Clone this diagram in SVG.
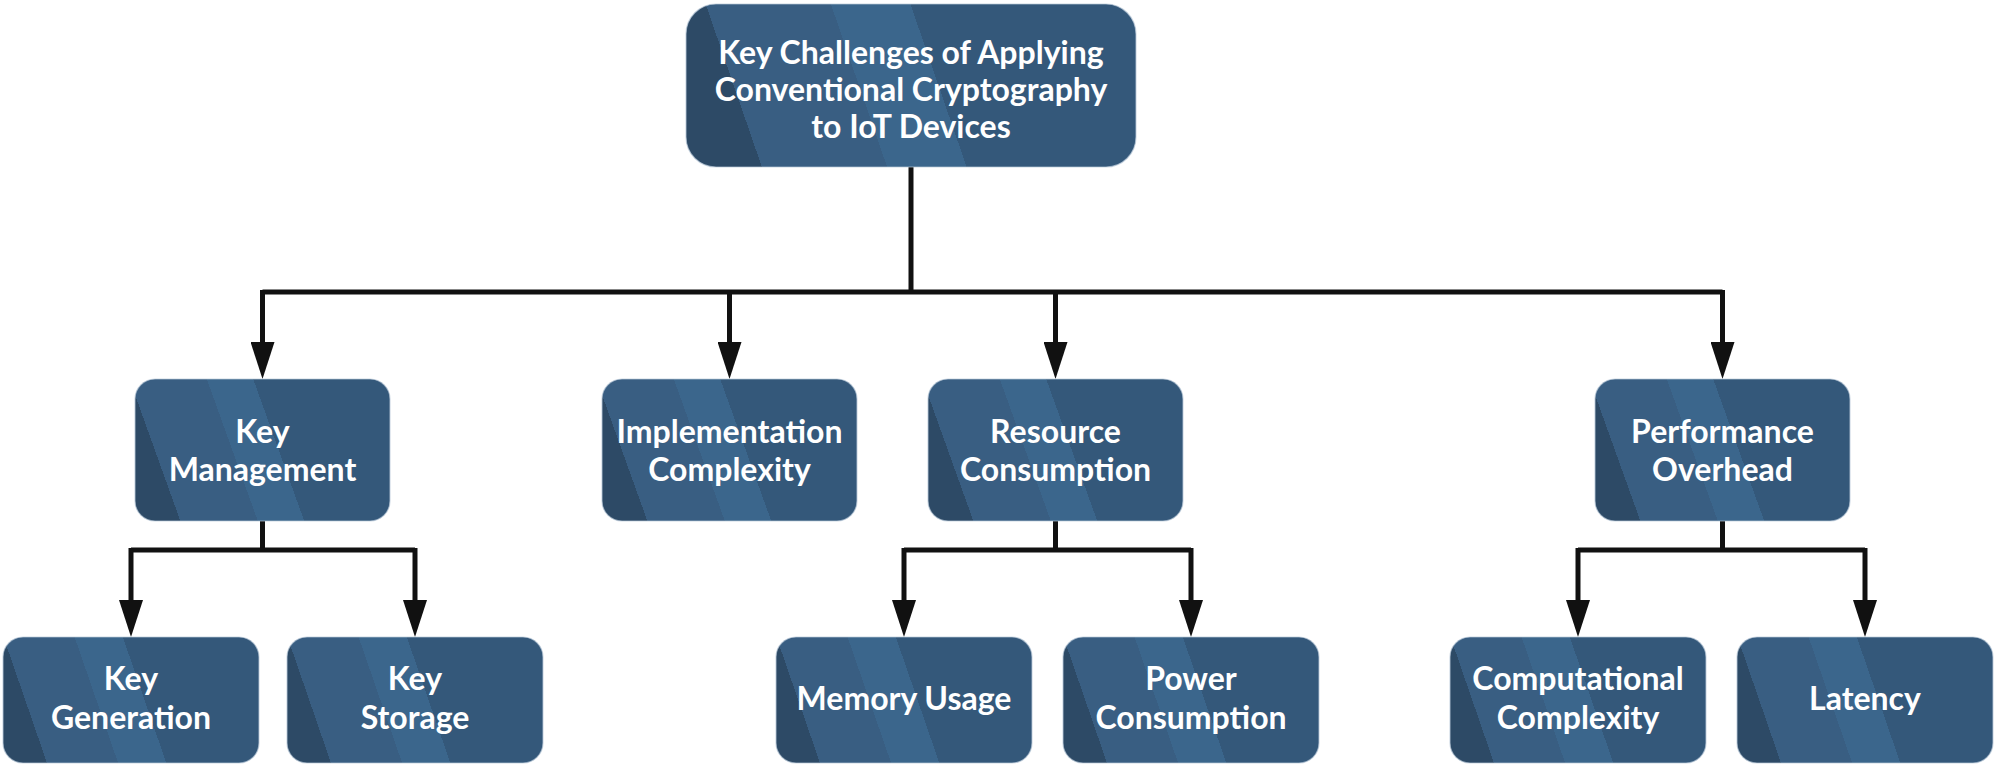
<svg xmlns="http://www.w3.org/2000/svg" width="1998" height="771" viewBox="0 0 1998 771">
  <style>
    .box { stroke: #b9c9d8; stroke-width: 1.2; stroke-opacity: 0.7; }
    .lbl { font-family: "Lato", "Open Sans", sans-serif; font-weight: 700; fill: #ffffff; text-anchor: middle; }
    .root { font-size: 32px; }
    .t { font-size: 32px; }
    .conn { fill: none; stroke: #111111; stroke-width: 5; stroke-linejoin: miter; }
  </style>
  <defs>
    <linearGradient id="gRoot" x1="0" y1="1" x2="1" y2="0.875">
      <stop offset="0" stop-color="#2d4a66"/>
      <stop offset="0.166" stop-color="#2d4a66"/>
      <stop offset="0.166" stop-color="#395e82"/>
      <stop offset="0.44" stop-color="#395e82"/>
      <stop offset="0.44" stop-color="#3b668c"/>
      <stop offset="0.614" stop-color="#3b668c"/>
      <stop offset="0.614" stop-color="#34587a"/>
      <stop offset="1" stop-color="#34587a"/>
    </linearGradient>
    <linearGradient id="gL2" x1="0" y1="1" x2="1" y2="0.8">
      <stop offset="0" stop-color="#2d4a66"/>
      <stop offset="0.171" stop-color="#2d4a66"/>
      <stop offset="0.171" stop-color="#395e82"/>
      <stop offset="0.463" stop-color="#395e82"/>
      <stop offset="0.463" stop-color="#3b668c"/>
      <stop offset="0.638" stop-color="#3b668c"/>
      <stop offset="0.638" stop-color="#34587a"/>
      <stop offset="1" stop-color="#34587a"/>
    </linearGradient>
    <linearGradient id="gL3" x1="0" y1="1" x2="1" y2="0.83">
      <stop offset="0" stop-color="#2d4a66"/>
      <stop offset="0.167" stop-color="#2d4a66"/>
      <stop offset="0.167" stop-color="#395e82"/>
      <stop offset="0.437" stop-color="#395e82"/>
      <stop offset="0.437" stop-color="#3b668c"/>
      <stop offset="0.62" stop-color="#3b668c"/>
      <stop offset="0.62" stop-color="#34587a"/>
      <stop offset="1" stop-color="#34587a"/>
    </linearGradient>
    <marker id="arrow" viewBox="0 0 37 24" refX="7" refY="12" markerWidth="37" markerHeight="24" markerUnits="userSpaceOnUse" orient="auto">
      <path d="M0,0 L37,12 L0,24 Z" fill="#111111"/>
    </marker>
  </defs>

  <g id="connectors">
    <path class="conn" d="M911,167 V292"/>
    <path class="conn" d="M262.5,292 H1722.5"/>
    <path class="conn" d="M262.5,290 V349" marker-end="url(#arrow)"/>
    <path class="conn" d="M729.5,292 V349" marker-end="url(#arrow)"/>
    <path class="conn" d="M1055.5,292 V349" marker-end="url(#arrow)"/>
    <path class="conn" d="M1722.5,290 V349" marker-end="url(#arrow)"/>

    <path class="conn" d="M262.5,521 V550"/>
    <path class="conn" d="M131,550 H415"/>
    <path class="conn" d="M131,548 V607" marker-end="url(#arrow)"/>
    <path class="conn" d="M415,548 V607" marker-end="url(#arrow)"/>

    <path class="conn" d="M1055.5,521 V550"/>
    <path class="conn" d="M904,550 H1191"/>
    <path class="conn" d="M904,548 V607" marker-end="url(#arrow)"/>
    <path class="conn" d="M1191,548 V607" marker-end="url(#arrow)"/>

    <path class="conn" d="M1722.5,521 V550"/>
    <path class="conn" d="M1578,550 H1865"/>
    <path class="conn" d="M1578,548 V607" marker-end="url(#arrow)"/>
    <path class="conn" d="M1865,548 V607" marker-end="url(#arrow)"/>
  </g>

  <g id="root">
    <rect class="box" x="686" y="4" width="450" height="163" rx="30" fill="url(#gRoot)"/>
    <text class="lbl root" x="911" y="64">Key Challenges of Applying</text>
    <text class="lbl root" x="911" y="101">Conventional Cryptography</text>
    <text class="lbl root" x="911" y="138">to IoT Devices</text>
  </g>

  <g id="key-management">
    <rect class="box" x="135" y="379" width="255" height="142" rx="20" fill="url(#gL2)"/>
    <text class="lbl t" x="262.5" y="443">Key</text>
    <text class="lbl t" x="262.5" y="481">Management</text>
  </g>
  <g id="implementation-complexity">
    <rect class="box" x="602" y="379" width="255" height="142" rx="20" fill="url(#gL2)"/>
    <text class="lbl t" x="729.5" y="443">Implementation</text>
    <text class="lbl t" x="729.5" y="481">Complexity</text>
  </g>
  <g id="resource-consumption">
    <rect class="box" x="928" y="379" width="255" height="142" rx="20" fill="url(#gL2)"/>
    <text class="lbl t" x="1055.5" y="443">Resource</text>
    <text class="lbl t" x="1055.5" y="481">Consumption</text>
  </g>
  <g id="performance-overhead">
    <rect class="box" x="1595" y="379" width="255" height="142" rx="20" fill="url(#gL2)"/>
    <text class="lbl t" x="1722.5" y="443">Performance</text>
    <text class="lbl t" x="1722.5" y="481">Overhead</text>
  </g>

  <g id="key-generation">
    <rect class="box" x="3" y="637" width="256" height="126" rx="20" fill="url(#gL3)"/>
    <text class="lbl t" x="131" y="690">Key</text>
    <text class="lbl t" x="131" y="729">Generation</text>
  </g>
  <g id="key-storage">
    <rect class="box" x="287" y="637" width="256" height="126" rx="20" fill="url(#gL3)"/>
    <text class="lbl t" x="415" y="690">Key</text>
    <text class="lbl t" x="415" y="729">Storage</text>
  </g>
  <g id="memory-usage">
    <rect class="box" x="776" y="637" width="256" height="126" rx="20" fill="url(#gL3)"/>
    <text class="lbl t" x="904" y="710">Memory Usage</text>
  </g>
  <g id="power-consumption">
    <rect class="box" x="1063" y="637" width="256" height="126" rx="20" fill="url(#gL3)"/>
    <text class="lbl t" x="1191" y="690">Power</text>
    <text class="lbl t" x="1191" y="729">Consumption</text>
  </g>
  <g id="computational-complexity">
    <rect class="box" x="1450" y="637" width="256" height="126" rx="20" fill="url(#gL3)"/>
    <text class="lbl t" x="1578" y="690">Computational</text>
    <text class="lbl t" x="1578" y="729">Complexity</text>
  </g>
  <g id="latency">
    <rect class="box" x="1737" y="637" width="256" height="126" rx="20" fill="url(#gL3)"/>
    <text class="lbl t" x="1865" y="710">Latency</text>
  </g>
</svg>
